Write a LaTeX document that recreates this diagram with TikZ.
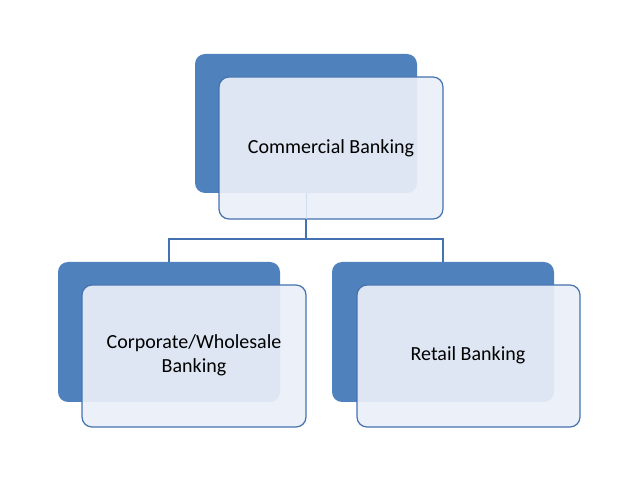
\documentclass[tikz,border=0pt]{standalone}
\usepackage{fontspec}
\setmainfont{Carlito}
\definecolor{dk}{HTML}{4F81BD}
\definecolor{lt}{HTML}{EAEFF7}
\definecolor{ln}{HTML}{4472B0}
\begin{document}
\begin{tikzpicture}[x=1pt,y=-1pt,
 back/.style={fill=dk,rounded corners=10pt},
 front/.style={draw=ln,line width=1.2pt,fill=lt,fill opacity=0.92,text opacity=1,rounded corners=10pt},
 conn/.style={draw=ln,line width=1.2pt},
 lbl/.style={font=\fontsize{20}{24}\selectfont,align=center}]
\useasboundingbox (0,0) rectangle (638,478);
% top
\fill[back] (195,54) rectangle (417,193);
\draw[front] (219,77) rectangle (443,219);
\node[lbl] (top) at (331,148) {Commercial Banking};
% left
\fill[back] (58,262) rectangle (280,402);
\draw[front] (82,285) rectangle (306,427);
\node[lbl] (left) at (194,355) {Corporate/Wholesale\\Banking};
% right
\fill[back] (332,262) rectangle (554,402);
\draw[front] (357,285) rectangle (580,427);
\node[lbl] (right) at (468,355) {Retail Banking};
% connectors
\coordinate (a) at (306,193);
\coordinate (b) at (306,239);
\coordinate (c) at (169,239);
\coordinate (d) at (443,239);
\coordinate (e) at (169,262);
\coordinate (f) at (443,262);
\draw[draw=ln!25,line width=1pt] (a) -- (306,219);
\draw[conn] (306,219) -- (b);
\draw[conn] (e) -- (c) -- (d) -- (f);
\end{tikzpicture}
\end{document}
